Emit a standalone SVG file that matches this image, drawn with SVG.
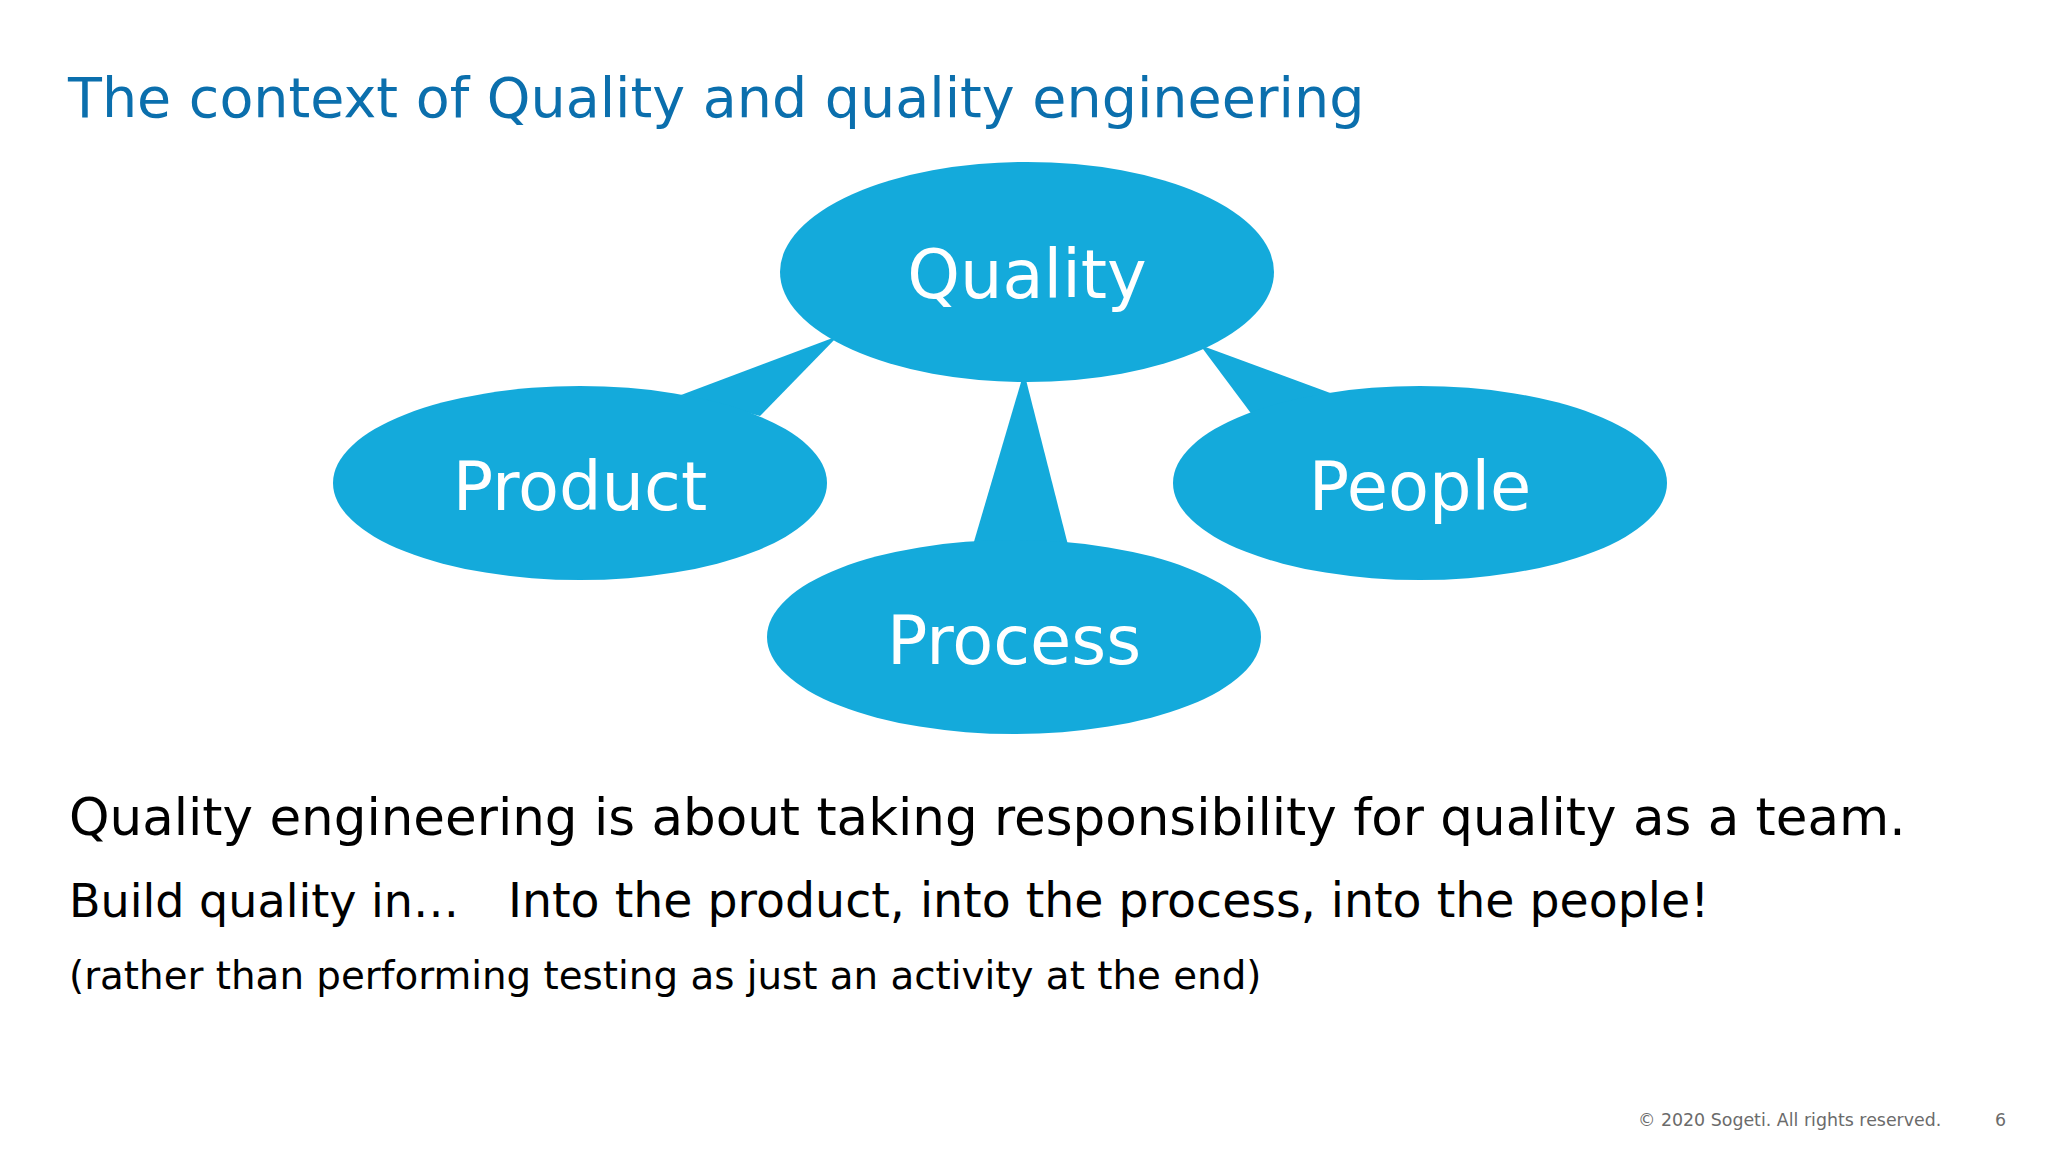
<svg xmlns="http://www.w3.org/2000/svg" width="2048" height="1152" viewBox="0 0 2048 1152">
<style>
.node{fill:#14aadb}
.wedge{fill:#14aadb}
.lbl{font-family:"DejaVu Sans","Verdana",sans-serif;font-size:67px;fill:#ffffff;text-anchor:middle}
.title{font-family:"DejaVu Sans","Verdana",sans-serif;font-size:55.5px;fill:#0b6fad}
.body{font-family:"DejaVu Sans","Verdana",sans-serif;fill:#000000}
.foot{font-family:"DejaVu Sans","Verdana",sans-serif;font-size:17.4px;fill:#6b6b6b}
</style>
<rect width="2048" height="1152" fill="#ffffff"/>
<text class="title" x="68" y="117">The context of Quality and quality engineering</text>
<g id="connectors">
<polygon class="wedge" points="681,395 838,336 760,416"/>
<polygon class="wedge" points="973,545 1024,372 1068,545"/>
<polygon class="wedge" points="1333,394 1200,345 1253,416"/>
</g>
<g id="node-product">
<ellipse class="node" cx="580" cy="483" rx="247" ry="97"/>
<text class="lbl" x="580" y="510">Product</text>
</g>
<g id="node-people">
<ellipse class="node" cx="1420" cy="483" rx="247" ry="97"/>
<text class="lbl" x="1420" y="510">People</text>
</g>
<g id="node-process">
<ellipse class="node" cx="1014" cy="637" rx="247" ry="97"/>
<text class="lbl" x="1014" y="664">Process</text>
</g>
<g id="node-quality">
<ellipse class="node" cx="1027" cy="272" rx="247" ry="110"/>
<text class="lbl" x="1027" y="298">Quality</text>
</g>
<text class="body" x="69" y="835" font-size="51.5">Quality engineering is about taking responsibility for quality as a team.</text>
<text class="body" x="69" y="917" font-size="46">Build quality in…<tspan x="508" font-size="47.4">Into the product, into the process, into the people!</tspan></text>
<text class="body" x="69" y="989" font-size="38.8">(rather than performing testing as just an activity at the end)</text>
<text class="foot" x="1638" y="1126">© 2020 Sogeti. All rights reserved.</text>
<text class="foot" x="1995" y="1126">6</text>
</svg>
